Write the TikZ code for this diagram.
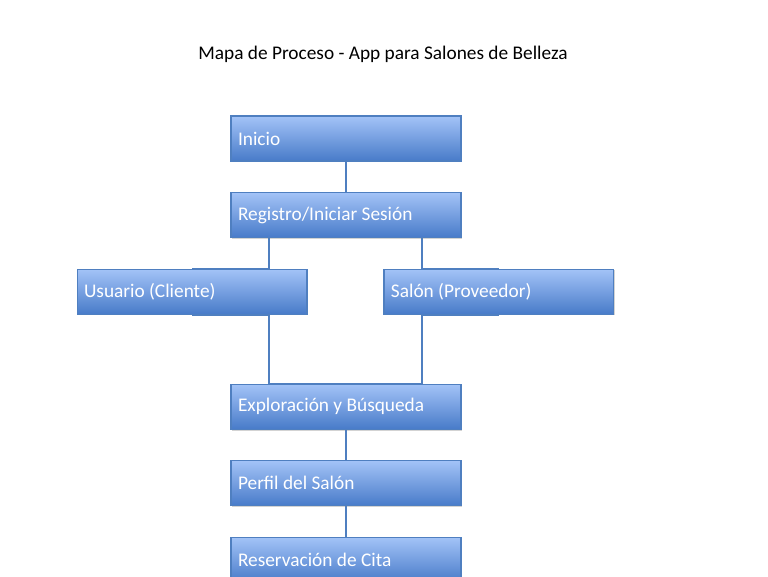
\documentclass[tikz,border=0pt]{standalone}
\usepackage{fontspec}
\setmainfont{Carlito}
\usepackage{tikz}
\usetikzlibrary{positioning,shadows,calc}

\definecolor{boxtop}{HTML}{A3C3F7}
\definecolor{boxbot}{HTML}{487BC9}
\definecolor{boxline}{HTML}{4F7FC0}

\begin{document}
\begin{tikzpicture}[
    x=0.02cm, y=-0.02cm,
    node distance=0.61cm,
    procbox/.style={shape=rectangle, draw=boxline, line width=0.6pt, top color=boxtop, bottom color=boxbot,
                    minimum width=4.6cm, minimum height=0.9cm, inner xsep=0.14cm, text width=4.32cm, align=justify,
                    execute at begin node={\spaceskip=0pt\xspaceskip=0pt},
                    text=white, font=\fontsize{11}{13}\selectfont,
                    drop shadow={shadow xshift=0.6pt, shadow yshift=-0.8pt, opacity=0.35}},
    link/.style={draw=boxline, line width=1.2pt}]
\useasboundingbox (0,0) rectangle (768,576);
\node (title) at (383,54) {\fontsize{11}{13}\selectfont Mapa de Proceso - App para Salones de Belleza};

\node[procbox] (inicio) at (346,138.5) {Inicio};
\node[procbox, below=of inicio] (registro) {Registro/Iniciar Sesión};
\node[procbox, below=of registro, xshift=-3.08cm] (usuario) {Usuario (Cliente)};
\node[procbox, below=of registro, xshift=3.06cm] (salon) {Salón (Proveedor)};
\node[procbox, below=1.38cm of registro |- usuario.south, anchor=north] (explora) {Exploración y Búsqueda};
\node[procbox, below=of explora] (perfil) {Perfil del Salón};
\node[procbox, below=of perfil] (reserva) {Reservación de Cita};

% conectores
\coordinate (regL) at ($(registro.south)+(-77,0)$);
\coordinate (regR) at ($(registro.south)+(76,0)$);
\draw[link] (inicio) -- (registro);
\draw[link] (regL) -- (regL |- usuario.north) -- (usuario.north);
\draw[link] (regR) -- (regR |- salon.north) -- (salon.north);
\draw[link] (usuario.south) -- (regL |- usuario.south) -- (regL |- explora.north) -- (explora.north);
\draw[link] (salon.south) -- (regR |- salon.south) -- (regR |- explora.north) -- (explora.north);
\draw[link] (explora) -- (perfil);
\draw[link] (perfil) -- (reserva);
\end{tikzpicture}
\end{document}
